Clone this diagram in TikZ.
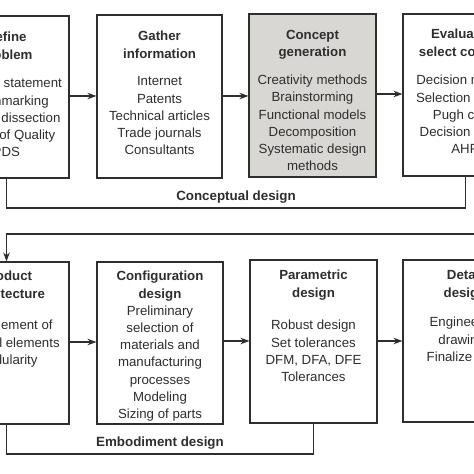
\documentclass[tikz,border=0pt]{standalone}
\usepackage{fontspec}
\setmainfont{Liberation Sans}
\usetikzlibrary{arrows.meta}
\definecolor{ink}{HTML}{2E2E2E}
\definecolor{boxgray}{HTML}{D9D7D3}
\tikzset{
  box/.style={draw=ink, line width=1.1bp, minimum width=125bp, minimum height=162bp, inner sep=0pt},
  txt/.style={anchor=north, align=center, inner sep=0pt, text=ink, font=\fontsize{13.3}{17.3}\selectfont},
  conn/.style={draw=ink, line width=1.3bp},
  arr/.style={conn, -{Stealth[length=9bp,width=6.5bp]}},
  lbl/.style={font=\bfseries\fontsize{13.4}{16}\selectfont, text=ink, inner sep=0pt},
}
\begin{document}
\begin{tikzpicture}[x=1bp,y=-1bp]
\useasboundingbox (0,0) rectangle (474,474);
\clip (0,0) rectangle (474,474);
\fill[white] (0,0) rectangle (474,474);
% top row boxes
\node[box] (b1) at (6.5,97) {};
\node[box, minimum height=163bp] (b2) at (159.5,96.5) {};
\node[box, fill=boxgray, minimum width=127bp, minimum height=163bp] (b3) at (312.5,95.5) {};
\node[box] (b4) at (465.5,95) {};
% bottom row boxes
\node[box] (b5) at (6.5,343) {};
\node[box, minimum width=126bp] (b6) at (160,343) {};
\node[box, minimum width=127bp, minimum height=163bp] (b7) at (313.5,341.5) {};
\node[box] (b8) at (465.5,341) {};
% texts
\node[txt] (t1) at (6.3,32) {\textbf{Define}\\\textbf{problem}\\[11.7bp]Problem statement\\Benchmarking\\Product dissection\\House of Quality\\PDS};
\node[txt] (t2) at (159.5,31) {\textbf{Gather}\\\textbf{information}\\[10.7bp]Internet\\Patents\\Technical articles\\Trade journals\\Consultants};
\node[txt] (t3) at (312.5,30) {\textbf{Concept}\\\textbf{generation}\\[10.7bp]Creativity methods\\Brainstorming\\Functional models\\Decomposition\\Systematic design\\methods};
\node[txt] (t4) at (465,29) {\textbf{Evaluate \&}\\\textbf{select concept}\\[11.7bp]Decision making\\Selection criteria\\Pugh chart\\Decision matrix\\AHP};
\node[txt] (t5) at (7,271) {\textbf{Product}\\\textbf{architecture}\\[14.7bp]Arrangement of\\physical elements\\Modularity};
\node[txt] (t6) at (160,271) {\textbf{Configuration}\\\textbf{design}\\Preliminary\\selection of\\materials and\\manufacturing\\processes\\Modeling\\Sizing of parts};
\node[txt] (t7) at (313.5,270) {\textbf{Parametric}\\\textbf{design}\\[15.7bp]Robust design\\Set tolerances\\DFM, DFA, DFE\\Tolerances};
\node[txt] (t8) at (465,270) {\textbf{Detail}\\\textbf{design}\\[12.7bp]Engineering\\drawings\\Finalize PDS};
% arrows between boxes
\draw[arr] (b1.east |- 0,96) -- (b2.west |- 0,96);
\draw[arr] (b2.east |- 0,96) -- (b3.west |- 0,96);
\draw[arr] (b3.east |- 0,94) -- (b4.west |- 0,94);
\draw[arr] (b5.east |- 0,342) -- (b6.west |- 0,342);
\draw[arr] (b6.east |- 0,341) -- (b7.west |- 0,341);
\draw[arr] (b7.east |- 0,341) -- (b8.west |- 0,341);
% conceptual design bracket
\draw[conn] (b1.south) -- (b1.south |- 0,208) -- (b4.south |- 0,208) -- (b4.south);
\node[lbl] (lc) at (236,197) {Conceptual design};
% transition to embodiment
\coordinate (tr) at (480,234);
\draw[arr] (tr) -| (b5.north);
% embodiment design bracket
\draw[conn] (b5.south) -- (b5.south |- 0,454) -- (b7.south |- 0,454) -- (b7.south);
\node[lbl] (le) at (160,443) {Embodiment design};
\end{tikzpicture}
\end{document}
